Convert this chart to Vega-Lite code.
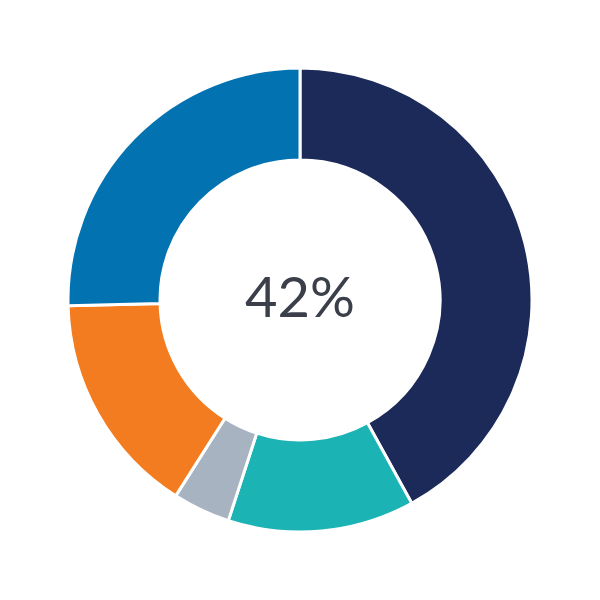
{
  "$schema": "https://vega.github.io/schema/vega-lite/v6.json",
  "autosize": {"type": "fit", "contains": "padding"},
  "width": 600,
  "height": 600,
  "padding": 0,
  "background": "white",
  "view": {"stroke": null},
  "layer": [
    {
      "data": {"values": [
        {"segment": "A", "value": 42, "order": 1},
        {"segment": "B", "value": 13, "order": 2},
        {"segment": "C", "value": 4, "order": 3},
        {"segment": "D", "value": 15.6, "order": 4},
        {"segment": "E", "value": 25.4, "order": 5}
      ]},
      "mark": {"type": "arc", "innerRadius": 140, "outerRadius": 232, "stroke": "white", "strokeWidth": 3},
      "encoding": {
        "theta": {"field": "value", "type": "quantitative", "stack": true},
        "order": {"field": "order", "type": "quantitative"},
        "color": {
          "field": "segment", "type": "nominal", "legend": null,
          "scale": {"domain": ["A", "B", "C", "D", "E"], "range": ["#1c2a5a", "#1cb3b5", "#a8b3c1", "#f37c21", "#0272b1"]}
        }
      }
    },
    {
      "data": {"values": [{"label": "42%"}]},
      "mark": {"type": "text", "font": "Lato", "fontWeight": 400, "fontSize": 56, "color": "#3a3f4a", "align": "center", "baseline": "middle"},
      "encoding": {"text": {"field": "label", "type": "nominal"}}
    }
  ]
}
